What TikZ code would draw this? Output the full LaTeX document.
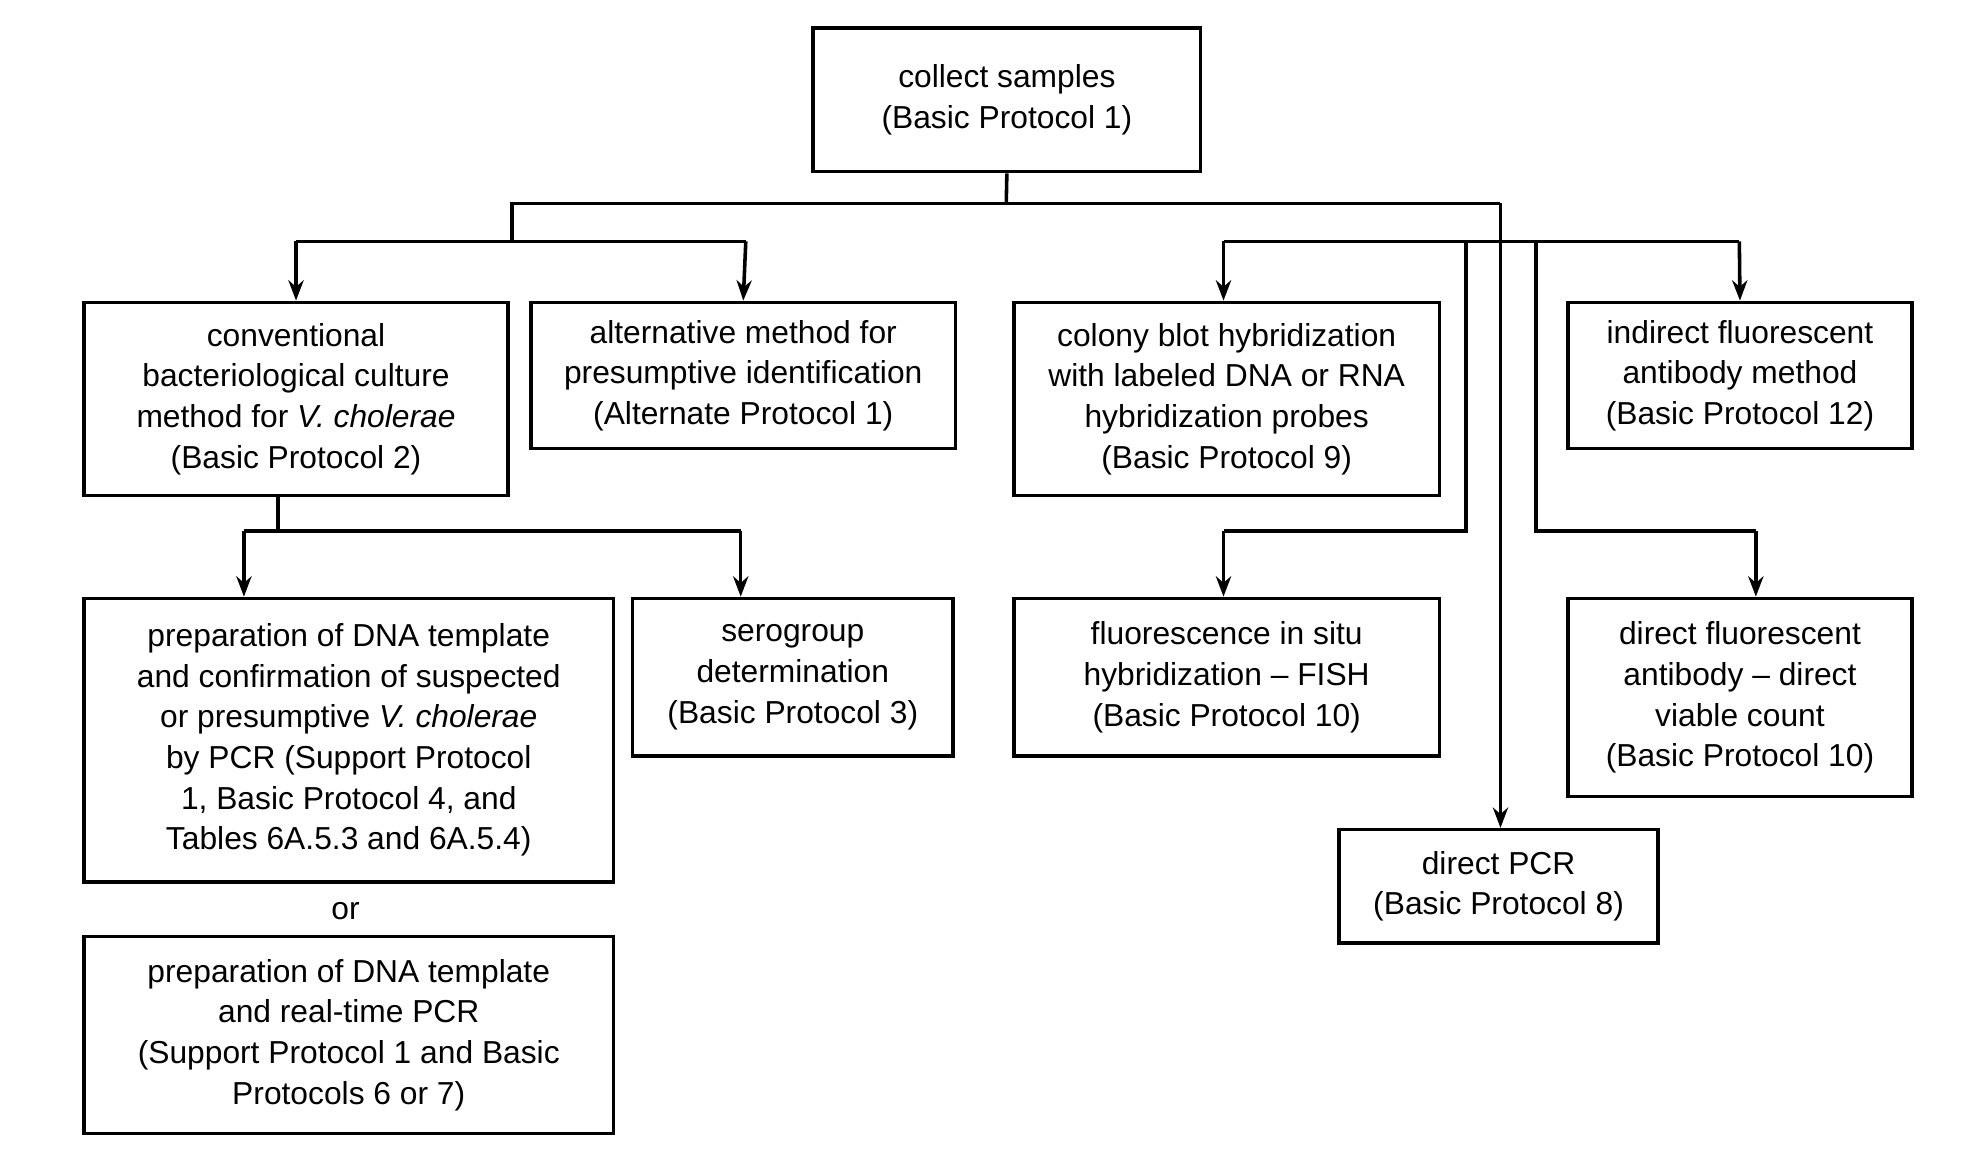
\documentclass[tikz,border=0pt]{standalone}
\usepackage{fontspec}
\setmainfont{Liberation Sans}
\usetikzlibrary{arrows.meta}
\begin{document}
\begin{tikzpicture}[x=0.5pt,y=-0.5pt,
  box/.style={draw,line width=1.4pt,align=center,inner sep=0pt,font=\fontsize{12.5}{16}\selectfont},
  ln/.style={line width=1.4pt},
  ar/.style={ln,-{Stealth[length=8pt,width=6pt]}}]
\useasboundingbox (0,0) rectangle (1560,904);
\newcommand{\bx}[6]{\node[box,minimum width=#4*0.5pt,minimum height=#5*0.5pt] (#1) at (#2,#3) {#6};}
\bx{collect}{792.5}{78.5}{305}{113}{collect samples\\(Basic Protocol 1)}
\bx{conv}{233}{314}{334}{152}{conventional\\bacteriological culture\\method for \textit{V. cholerae}\\(Basic Protocol 2)}
\bx{alt}{585}{295.5}{334}{115}{alternative method for\\presumptive identification\\(Alternate Protocol 1)}
\bx{colony}{965.5}{314}{335}{152}{colony blot hybridization\\with labeled DNA or RNA\\hybridization probes\\(Basic Protocol 9)}
\bx{indirect}{1369.5}{295.5}{271}{115}{indirect fluorescent\\antibody method\\(Basic Protocol 12)}
\bx{prep}{274.5}{582.5}{417}{223}{preparation of DNA template\\and confirmation of suspected\\or presumptive \textit{V. cholerae}\\by PCR (Support Protocol\\1, Basic Protocol 4, and\\Tables 6A.5.3 and 6A.5.4)}
\bx{sero}{624}{533}{252}{124}{serogroup\\determination\\(Basic Protocol 3)}
\bx{fish}{965.5}{533}{335}{124}{fluorescence in situ\\hybridization -- FISH\\(Basic Protocol 10)}
\bx{dfa}{1369.5}{549}{271}{156}{direct fluorescent\\antibody -- direct\\viable count\\(Basic Protocol 10)}
\bx{pcr}{1179.5}{697.5}{251}{89}{direct PCR\\(Basic Protocol 8)}
\bx{rt}{274.5}{814.5}{417}{155}{preparation of DNA template\\and real-time PCR\\(Support Protocol 1 and Basic\\Protocols 6 or 7)}
\node[font=\fontsize{12.5}{16}\selectfont] (or) at (272,717) {or};
\coordinate (a) at (792,160);
\draw[ln] (collect.south) -- (a);
\draw[ln] (403,190) -- (403,160) -- (1181,160);
\draw[ln] (233,190) -- (587,190);
\draw[ar] (233,190) -- (conv.north);
\draw[ar] (587,190) -- (alt.north);
\draw[ln] (963,190) -- (1369,190);
\draw[ar] (963,190) -- (colony.north -| 963,0);
\draw[ar] (1369,190) -- (indirect.north);
\draw[ar] (1181,160) -- (pcr.north -| 1181,0);
\draw[ln] (1154,190) -- (1154,418) -- (963,418);
\draw[ar] (963,418) -- (fish.north -| 963,0);
\draw[ln] (1209,190) -- (1209,418) -- (1382,418);
\draw[ar] (1382,418) -- (dfa.north -| 1382,0);
\draw[ln] (conv.south -| 219,0) -- (219,418);
\draw[ln] (192,418) -- (583,418);
\draw[ar] (192,418) -- (prep.north -| 192,0);
\draw[ar] (583,418) -- (sero.north -| 583,0);
\end{tikzpicture}
\end{document}
